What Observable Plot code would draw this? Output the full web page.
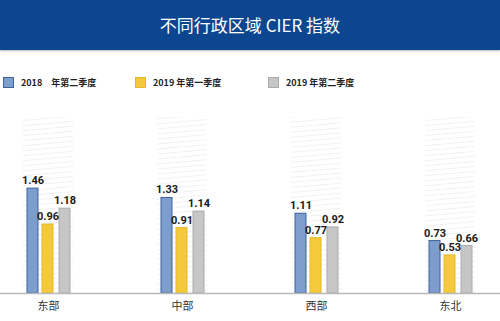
<!DOCTYPE html>
<html><head><meta charset="utf-8">
<script src="https://cdn.jsdelivr.net/npm/d3@7"></script>
<script src="https://cdn.jsdelivr.net/npm/@observablehq/plot@0.6"></script>
<style>
body{margin:0;width:500px;height:321px;background:#fff;position:relative;overflow:hidden;font-family:"Noto Sans CJK SC","Noto Sans",sans-serif;}
#title{position:absolute;left:0;top:0;width:500px;height:50px;background:#0c4690;color:#fff;font-size:17px;line-height:50px;text-align:center;box-shadow:0 1px 2px rgba(0,0,0,0.3);}
#legend{position:absolute;top:76px;left:0;width:500px;height:12px;}
.item{position:absolute;top:0;display:flex;align-items:center;font-size:9px;color:#222;font-weight:600;white-space:pre;}
.sw{width:11px;height:11px;margin-right:7px;box-sizing:border-box;border:1px solid;}
#chart{position:absolute;top:100px;left:0;}
</style></head><body>
<div id="title">不同行政区域 CIER 指数</div>
<div id="legend"></div>
<div id="chart"></div>
<script>
const categories = ["东部", "中部", "西部", "东北"];
const series = ["2018　年第二季度", "2019 年第一季度", "2019 年第二季度"];
const q2_2018 = [1.46, 1.33, 1.11, 0.73];
const q1_2019 = [0.96, 0.91, 0.77, 0.53];
const q2_2019 = [1.18, 1.14, 0.92, 0.66];
const values = [q2_2018, q1_2019, q2_2019];
const yMax = 2.45;

const fills = ["#7d9dcd", "#f5c93c", "#c6c6c6"];
const strokes = ["#3c63a1", "#e7b925", "#ababab"];
const insets = [[4, 35], [19, 20], [36, 3]];
const dxs = [-15.5, -0.5, 16.5];
const legendX = [3, 135, 268];

const legend = document.getElementById("legend");
series.forEach((s, i) => {
  const it = document.createElement("div");
  it.className = "item";
  it.style.left = legendX[i] + "px";
  const sw = document.createElement("div");
  sw.className = "sw";
  sw.style.background = fills[i];
  sw.style.borderColor = strokes[i];
  it.appendChild(sw);
  const t = document.createElement("span");
  t.textContent = s;
  it.appendChild(t);
  legend.appendChild(it);
});

const marks = [
  Plot.barY(categories, {x: d => d, y1: 0, y2: yMax, fill: "url(#hatch)"})
];
values.forEach((vals, i) => {
  const data = categories.map((c, j) => ({c, v: vals[j]}));
  marks.push(Plot.barY(data, {x: "c", y: "v", fill: fills[i], stroke: strokes[i], strokeWidth: 1,
    insetLeft: insets[i][0], insetRight: insets[i][1]}));
});
marks.push(Plot.ruleY([0], {stroke: "#b9b9b9", strokeWidth: 1.5}));
values.forEach((vals, i) => {
  const data = categories.map((c, j) => ({c, v: vals[j]}));
  marks.push(Plot.text(data, {x: "c", y: "v", text: d => d.v.toFixed(2), dx: dxs[i], dy: -8,
    fontSize: 11, fontWeight: "bold", fontFamily: "Roboto", fill: "#1a1a1a"}));
});

const svg = Plot.plot({
  width: 500,
  height: 221,
  marginLeft: 0,
  marginRight: 0,
  marginTop: 17,
  marginBottom: 28,
  style: {fontSize: "11px", fontFamily: "'Noto Sans CJK SC', sans-serif", color: "#333", background: "transparent"},
  x: {domain: categories, paddingInner: 0.628, paddingOuter: 0.175, align: 0.468, tickSize: 0, tickPadding: 9, label: null},
  y: {domain: [0, yMax], axis: null},
  marks
});

const defs = d3.select(svg).insert("defs", ":first-child");
const pat = defs.append("pattern").attr("id", "hatch").attr("patternUnits", "userSpaceOnUse")
  .attr("width", 14).attr("height", 5).attr("patternTransform", "rotate(-5)");
pat.append("rect").attr("width", 14).attr("height", 5).attr("fill", "#fff");
pat.append("line").attr("x1", 0).attr("x2", 14).attr("y1", 2.5).attr("y2", 2.5)
  .attr("stroke", "#efefef").attr("stroke-width", 0.8);

document.getElementById("chart").appendChild(svg);
</script>
</body></html>
